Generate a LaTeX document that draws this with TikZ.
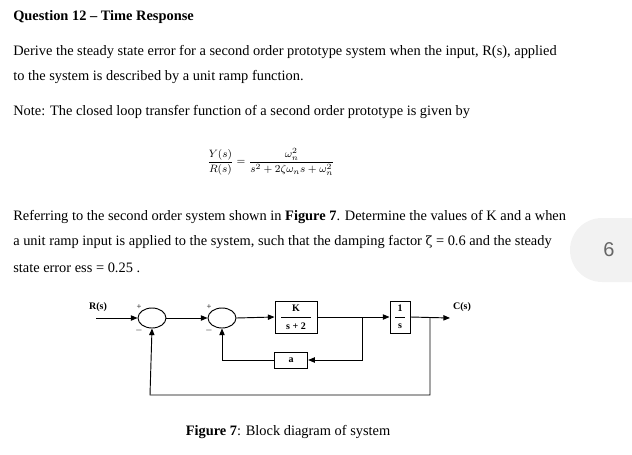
\documentclass[tikz,border=0pt]{standalone}
\usepackage{fontspec}
\setmainfont{Liberation Serif}
\usetikzlibrary{arrows.meta,shapes.geometric}
\begin{document}
\begin{tikzpicture}[x=0.75pt,y=-0.75pt,
  txt/.style={anchor=west,inner sep=0,font=\fontsize{10.8}{12}\selectfont},
  blk/.style={draw,line width=0.7pt,inner sep=0,font=\fontsize{7.5}{8}\selectfont\bfseries},
  sumj/.style={draw,ellipse,line width=0.7pt,minimum width=21pt,minimum height=15pt,inner sep=0},
  sig/.style={font=\fontsize{6.5}{6.5}\selectfont,inner sep=0},
  ar/.style={-{Triangle[length=5pt,width=4pt]},line width=0.7pt},
  ln/.style={line width=0.7pt}]
\useasboundingbox (0,0) rectangle (632,454);
\fill[gray!10] (632,218) -- (602,218) arc[start angle=-90,end angle=-270,radius=32] -- (632,282) -- cycle;
\node (six) at (609,250) {\fontsize{15}{15}\selectfont\color{gray!80!black}\fontspec{Liberation Sans}6};
\node[txt,font=\fontsize{10.8}{12}\selectfont\bfseries] (q) at (13,17) {Question 12 -- Time Response};
\node[txt] (l1) at (13,52) {Derive the steady state error for a second order prototype system when the input, R(s), applied};
\node[txt] (l2) at (13,77) {to the system is described by a unit ramp function.};
\node[txt] (l3) at (13,112) {Note: The closed loop transfer function of a second order prototype is given by};
\node[inner sep=0,font=\fontsize{8.3}{10}\selectfont] (eq) at (271,162) {$\displaystyle\frac{Y(s)}{R(s)}=\frac{\omega_n^2}{s^2+2\zeta\omega_n s+\omega_n^2}$};
\node[txt] (l4) at (13,217) {Referring to the second order system shown in \textbf{Figure 7}. Determine the values of K and a when};
\node[txt] (l5) at (13,242) {a unit ramp input is applied to the system, such that the damping factor \fontspec{DejaVu Serif}\fontsize{9.5}{11}\selectfont ζ\fontspec{Liberation Serif}\fontsize{10.8}{12}\selectfont{} = 0.6 and the steady};
\node[txt] (l6) at (13,268) {state error ess = 0.25 .};
\node[inner sep=0,font=\fontsize{10.8}{12}\selectfont] (cap) at (288,432) {\textbf{Figure 7}: Block diagram of system};
% diagram
\node[blk,draw=none] (rl) at (98,307) {R(s)};
\node[blk,draw=none] (cl) at (462,307) {C(s)};
\coordinate (in) at (96,318);
\node[sumj] (s1) at (152,318) {};
\node[sumj] (s2) at (222,318) {};
\node[blk,minimum width=31.5pt,minimum height=24pt] (G) at (296,317) {};
\node[blk,draw=none] at (296,308) {K};
\node[blk,draw=none] at (296,326) {s + 2};
\draw[line width=0.6pt] (281,317) -- (311,317);
\node[blk,minimum width=15pt,minimum height=24pt] (I) at (400,317) {};
\node[blk,draw=none] at (400,308) {1};
\node[blk,draw=none] at (400,326) {s};
\draw[line width=0.6pt] (395,317) -- (405,317);
\node[blk,minimum width=25pt,minimum height=12pt] (A) at (291,360) {a};
\coordinate (out) at (450,318);
\coordinate (b1) at (362,318);
\coordinate (b2) at (430,318);
\draw[ar] (in) -- (s1.west);
\draw[ar] (s1.east) -- (s2.west);
\draw[ar] (s2.east) -- (G.west);
\draw[ar] (G.east) -- (I.west);
\draw[ar] (I.east) -- (out);
\draw[ar] (b1) |- (A.east);
\draw[ar] (A.west) -| (s2.south);
\draw[ar] (b2) |- (150,395) -- (s1.south);
\node[sig] at (139,307) {+};
\node[sig] at (139,330) {$-$};
\node[sig] at (209,307) {+};
\node[sig] at (209,330) {$-$};
\end{tikzpicture}
\end{document}
